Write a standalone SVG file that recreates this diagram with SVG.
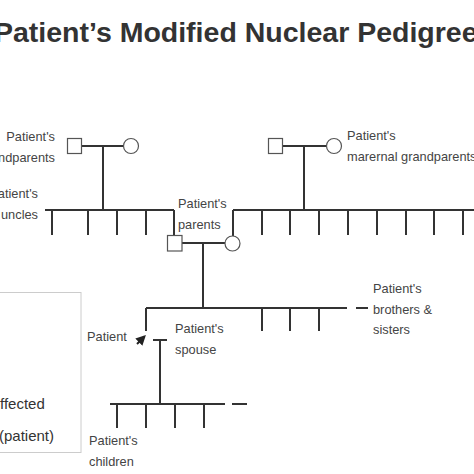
<svg xmlns="http://www.w3.org/2000/svg" width="474" height="474" viewBox="0 0 474 474">
<defs>
<style>
.ln{stroke:#333;stroke-width:2;fill:none}
.sh{stroke:#555;stroke-width:1.2;fill:#fff}
.lb{font-family:"Liberation Sans",Arial,sans-serif;font-size:12.8px;fill:#444}
.lg{font-family:"Liberation Sans",Arial,sans-serif;font-size:15px;fill:#333}
.tt{font-family:"Liberation Sans",Arial,sans-serif;font-size:28.5px;font-weight:bold;fill:#333}
</style>
<marker id="ah" viewBox="0 0 10 10" refX="8" refY="5" markerWidth="5" markerHeight="5" orient="auto">
<path d="M0,0 L10,5 L0,10 z" fill="#222"/>
</marker>
</defs>
<rect width="474" height="474" fill="#fff"/>
<text class="tt" x="-6" y="42">Patient’s Modified Nuclear Pedigree</text>

<g id="legend">
<rect x="-1" y="292.5" width="82" height="160" fill="none" stroke="#ccc" stroke-width="1"/>
<text class="lg" x="0" y="409">ffected</text>
<text class="lg" x="-1" y="441">(patient)</text>
</g>

<g id="connectors">
<path class="ln" d="M81,146 H124 M103,146 V210 M45,210 H174 M52,210 V235 M88,210 V235 M117,210 V235 M146,210 V235 M174,210 V235"/>
<path class="ln" d="M283,146 H327 M304,146 V210 M233,210 H474 M233,210 V236 M262,210 V235 M290,210 V235 M319,210 V235 M348,210 V235 M377,210 V235 M406,210 V235 M434,210 V235 M463,210 V235"/>
<path class="ln" d="M182,243 H225 M203,243 V308 M146,308 H347 M356,308 H368 M146,308 V331 M262,308 V331 M290,308 V331 M319,308 V331"/>
<path class="ln" d="M153,340 H167 M160,340 V404 M110,404 H225 M232,404 H247 M117,404 V428 M146,404 V428 M175,404 V428 M204,404 V428"/>
<line x1="137" y1="344" x2="144.5" y2="336.5" stroke="#222" stroke-width="2" marker-end="url(#ah)"/>
</g>

<g id="left-grandparents">
<rect class="sh" x="67.5" y="138.5" width="14" height="15"/>
<circle class="sh" cx="131" cy="146" r="7.5"/>
<text class="lb" x="55" y="141" text-anchor="end">Patient's</text>
<text class="lb" x="55" y="162" text-anchor="end">ndparents</text>
</g>
<g id="uncles">
<text class="lb" x="38" y="198" text-anchor="end">atient's</text>
<text class="lb" x="38" y="219" text-anchor="end">uncles</text>
</g>
<g id="right-grandparents">
<rect class="sh" x="268.5" y="138.5" width="14" height="15"/>
<circle class="sh" cx="334" cy="146" r="7.5"/>
<text class="lb" x="347" y="140">Patient's</text>
<text class="lb" x="347" y="161">marernal grandparents</text>
</g>
<g id="parents">
<rect class="sh" x="167.5" y="235.5" width="14.5" height="15.5"/>
<circle class="sh" cx="232.5" cy="243.5" r="7.5"/>
<text class="lb" x="178" y="208">Patient's</text>
<text class="lb" x="178" y="229">parents</text>
</g>
<g id="siblings">
<text class="lb" x="373" y="293">Patient's</text>
<text class="lb" x="373" y="314">brothers &amp;</text>
<text class="lb" x="373" y="334">sisters</text>
</g>
<g id="patient">
<text class="lb" x="87" y="341">Patient</text>
</g>
<g id="spouse">
<text class="lb" x="175" y="333">Patient's</text>
<text class="lb" x="175" y="354">spouse</text>
</g>
<g id="children">
<text class="lb" x="89" y="445">Patient's</text>
<text class="lb" x="89" y="466">children</text>
</g>
</svg>
